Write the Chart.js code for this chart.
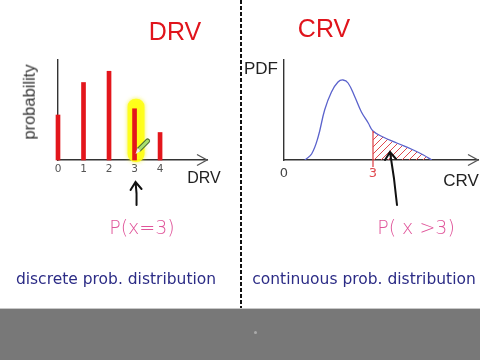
<!DOCTYPE html>
<html lang="en">
<head>
  <meta charset="UTF-8">
  <title>DRV vs CRV</title>
  <script src="https://cdn.jsdelivr.net/npm/chart.js"></script>
  <style>
    html, body { margin: 0; padding: 0; }
    body { width: 480px; height: 360px; background: #fff; position: relative; overflow: hidden; font-family: 'Liberation Sans', Arial, sans-serif; }
    .box { position: absolute; top: 0; width: 240px; height: 308px; }
    .divider { position: absolute; left: 240px; top: 0; width: 2px; height: 308px;
      background: repeating-linear-gradient(to bottom, #111 0 4px, transparent 4px 6px); }
    .footer { position: absolute; left: 0; top: 308px; width: 480px; height: 52px; background: #787878; border-top: 1px solid #c8c8c8; box-sizing: border-box; }
    .dot { position: absolute; left: 254px; top: 331px; width: 3px; height: 3px; background: #aaa; border-radius: 50%; }
    .t { position: absolute; transform: translate(-50%, -50%); line-height: 1; white-space: nowrap; }
    .title { font-size: 25px; color: #e0141c; }
    .axis { font-size: 16px; color: #222; }
    .hand { font-family: 'DejaVu Sans', sans-serif; font-weight: 200; font-size: 19px; color: #e0559a; }
    .caption { font-family: 'DejaVu Sans', sans-serif; font-size: 15.5px; color: #2c2c86; }
  </style>
</head>
<body>
  <div class="box" style="left:0"><canvas id="drv" width="240" height="308"></canvas></div>
  <div class="box" style="left:240px"><canvas id="crv" width="240" height="308"></canvas></div>
  <div class="divider"></div>
  <div class="footer"></div>
  <div class="dot"></div>

  <div class="t title" style="left:175px; top:31px">DRV</div>
  <div class="t title" style="left:324px; top:28px">CRV</div>
  <div class="t axis" style="left:29px; top:102px; font-size:16.5px; color:#333; transform:translate(-50%,-50%) rotate(-90deg)">probability</div>
  <div class="t axis" style="left:204px; top:178px">DRV</div>
  <div class="t axis" style="left:261px; top:68px; font-size:17px">PDF</div>
  <div class="t axis" style="left:461px; top:180px; font-size:17px">CRV</div>
  <div class="t hand" style="left:142px; top:227px">P(x=3)</div>
  <div class="t hand" style="left:416px; top:227px">P( x &gt;3)</div>
  <div class="t caption" style="left:116px; top:280px">discrete prob. distribution</div>
  <div class="t caption" style="left:364px; top:280px">continuous prob. distribution</div>

  <script>
    // discrete random variable
    const drvX = [0, 1, 2, 3, 4];
    const drvP = [0.18, 0.31, 0.355, 0.205, 0.11];

    // continuous random variable, curve
    const crvX = [0.7, 0.93, 1.15, 1.37, 1.6, 1.82, 1.99, 2.16, 2.39, 2.61, 2.84, 3.0, 3.34, 3.8, 4.36, 4.7, 4.98];
    const crvY = [0, 0.06, 0.23, 0.5, 0.68, 0.78, 0.8, 0.77, 0.63, 0.48, 0.37, 0.29, 0.23, 0.17, 0.1, 0.05, 0];
    const crvTicks = [0, 3];
    const cut = 3;

    Chart.defaults.animation = false;
    Chart.defaults.font.family = "'DejaVu Sans', sans-serif";

    function arrowHead(ctx, x, y) {
      ctx.save();
      ctx.strokeStyle = '#555';
      ctx.lineWidth = 1.3;
      ctx.beginPath();
      ctx.moveTo(x - 10, y - 5.5);
      ctx.lineTo(x, y);
      ctx.lineTo(x - 10, y + 5.5);
      ctx.stroke();
      ctx.restore();
    }

    function upArrow(ctx, x1, y1, x2, y2) {
      ctx.save();
      ctx.strokeStyle = '#111';
      ctx.lineWidth = 2;
      ctx.lineCap = 'round';
      ctx.beginPath();
      ctx.moveTo(x1, y1);
      ctx.quadraticCurveTo((x1 + x2) / 2 + 1, (y1 + y2) / 2, x2, y2);
      ctx.moveTo(x2 - 5, y2 + 8);
      ctx.lineTo(x2, y2);
      ctx.lineTo(x2 + 6, y2 + 7);
      ctx.stroke();
      ctx.restore();
    }

    const axisScale = h => function (scale) { scale.height = h; };

    const drvDeco = {
      id: 'drvDeco',
      beforeDatasetsDraw(chart) {
        const { ctx, scales: { x, y } } = chart;
        const cx = x.getPixelForValue(3) + 1.5;
        const top = y.getPixelForValue(drvP[3]) - 10;
        ctx.save();
        ctx.fillStyle = 'rgba(255,255,20,0.9)';
        ctx.shadowColor = 'rgba(240,240,0,0.8)';
        ctx.shadowBlur = 4;
        ctx.beginPath();
        ctx.roundRect(cx - 8.5, top, 17, y.getPixelForValue(0) - top + 2, 8);
        ctx.fill();
        ctx.restore();
      },
      afterDatasetsDraw(chart) {
        const { ctx, chartArea, scales: { x } } = chart;
        arrowHead(ctx, chartArea.right, chartArea.bottom);
        // little pencil cursor
        const px = x.getPixelForValue(3);
        ctx.save();
        ctx.lineCap = 'round';
        ctx.strokeStyle = '#4a6a30';
        ctx.lineWidth = 5;
        ctx.beginPath(); ctx.moveTo(px + 5, 149); ctx.lineTo(px + 13, 141); ctx.stroke();
        ctx.strokeStyle = '#a8e070';
        ctx.lineWidth = 3;
        ctx.beginPath(); ctx.moveTo(px + 5, 149); ctx.lineTo(px + 13, 141); ctx.stroke();
        ctx.fillStyle = '#eee';
        ctx.beginPath(); ctx.moveTo(px + 1, 154); ctx.lineTo(px + 3, 148); ctx.lineTo(px + 6, 151); ctx.closePath(); ctx.fill();
        ctx.restore();
        upArrow(ctx, px + 2, 205, px + 1, 182);
      }
    };

    new Chart(document.getElementById('drv'), {
      type: 'bar',
      data: {
        datasets: [{
          data: drvX.map((v, i) => ({ x: v, y: drvP[i] })),
          backgroundColor: '#e3161c',
          barThickness: 4,
          clip: false
        }]
      },
      options: {
        responsive: false,
        layout: { padding: { left: 58, top: 60, right: 33, bottom: 128 } },
        plugins: { legend: { display: false }, tooltip: { enabled: false } },
        scales: {
          x: {
            type: 'linear', min: 0, max: 5.84, offset: false,
            afterBuildTicks: s => { s.ticks = drvX.map(v => ({ value: v })); },
            afterFit: axisScale(20),
            grid: { display: false, drawTicks: false, offset: false },
            border: { color: '#333', width: 1.4 },
            ticks: { font: { size: 10.5 }, color: '#555', padding: 3 }
          },
          y: {
            min: 0, max: 0.4,
            afterFit: s => { s.width = 0; },
            grid: { display: false, drawTicks: false },
            border: { color: '#333', width: 1.4 },
            ticks: { display: false }
          }
        }
      },
      plugins: [drvDeco]
    });

    function hatch() {
      const c = document.createElement('canvas');
      c.width = 7; c.height = 7;
      const g = c.getContext('2d');
      g.strokeStyle = '#e0484e';
      g.lineWidth = 1;
      g.beginPath();
      g.moveTo(0, 7); g.lineTo(7, 0);
      g.moveTo(-1, 1); g.lineTo(1, -1);
      g.moveTo(6, 8); g.lineTo(8, 6);
      g.stroke();
      return g.createPattern(c, 'repeat');
    }

    const crvPoints = crvX.map((v, i) => ({ x: v, y: crvY[i] }));
    const tailPoints = crvPoints.filter(p => p.x >= cut);

    const crvDeco = {
      id: 'crvDeco',
      afterDatasetsDraw(chart) {
        const { ctx, chartArea, scales: { x, y } } = chart;
        const cx = x.getPixelForValue(cut);
        ctx.save();
        ctx.strokeStyle = '#e0484e';
        ctx.lineWidth = 1.3;
        ctx.beginPath();
        ctx.moveTo(cx, y.getPixelForValue(crvY[crvX.indexOf(cut)]));
        ctx.lineTo(cx, chartArea.bottom + 7);
        ctx.stroke();
        ctx.restore();
        arrowHead(ctx, chartArea.right, chartArea.bottom);
        upArrow(ctx, 157, 205, 150, 152);
      }
    };

    new Chart(document.getElementById('crv'), {
      type: 'line',
      data: {
        datasets: [{
          data: crvPoints,
          borderColor: '#5a62cc',
          borderWidth: 1.3,
          pointRadius: 0,
          tension: 0.4,
          fill: false
        }, {
          data: tailPoints,
          borderColor: 'rgba(0,0,0,0)',
          borderWidth: 0,
          showLine: true,
          pointRadius: 0,
          tension: 0.4,
          fill: 'origin',
          backgroundColor: hatch()
        }]
      },
      options: {
        responsive: false,
        layout: { padding: { left: 44, top: 60, right: 2, bottom: 128 } },
        plugins: { legend: { display: false }, tooltip: { enabled: false } },
        scales: {
          x: {
            type: 'linear', min: 0, max: 6.54,
            afterBuildTicks: s => { s.ticks = crvTicks.map(v => ({ value: v })); },
            afterFit: axisScale(20),
            grid: { display: false, drawTicks: false },
            border: { color: '#333', width: 1.4 },
            ticks: {
              font: { size: 13 }, padding: 6,
              color: c => c.tick && c.tick.value === cut ? '#e0484e' : '#444'
            }
          },
          y: {
            min: 0, max: 1,
            afterFit: s => { s.width = 0; },
            grid: { display: false, drawTicks: false },
            border: { color: '#333', width: 1.4 },
            ticks: { display: false }
          }
        }
      },
      plugins: [crvDeco]
    });
  </script>
</body>
</html>
